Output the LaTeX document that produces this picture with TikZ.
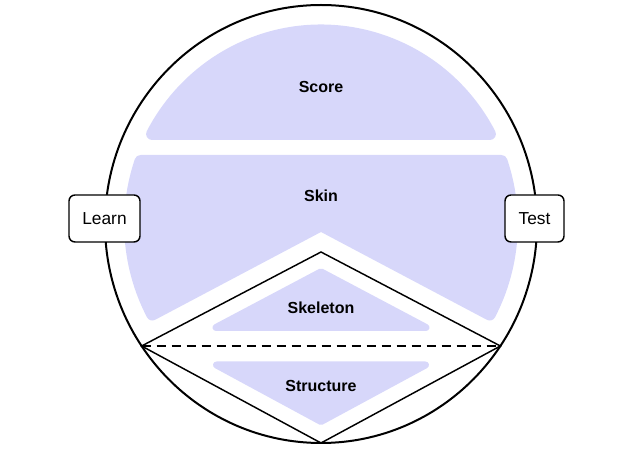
\documentclass[tikz,border=0pt]{standalone}
\usepackage{fontspec}
\setmainfont{Liberation Sans}
\definecolor{lav}{HTML}{D7D7FA}
\begin{document}
\begin{tikzpicture}[x=0.75pt,y=0.75pt,
  region/.style={fill=lav,draw=lav,line join=round,line width=9pt},
  tri/.style={fill=lav,draw=lav,line join=round,line width=5.25pt},
  lbl/.style={font=\bfseries\fontsize{12}{14}\selectfont,text=black},
  box/.style={draw,line width=1.1pt,rounded corners=4.5pt,fill=white,
    minimum height=35.25pt,inner sep=0pt,font=\fontsize{13}{15}\selectfont}]
\useasboundingbox (0,0) rectangle (640,450);
\begin{scope}[shift={(321,226)},xscale=0.9863]
  % Score region
  \path[region] (27.72:193.5) arc[start angle=27.72,end angle=152.28,radius=193.5] -- cycle;
  % Skin region
  \path[region] (161:193.5) arc[start angle=161,end angle=207.89,radius=193.5]
    -- (0,-1.2) -- (332.11:193.5) arc[start angle=332.11,end angle=379,radius=193.5] -- cycle;
  % Skeleton and Structure regions
  \path[tri] (0,-47.9) -- (-106.45,-103.5) -- (106.45,-103.5) -- cycle;
  \path[tri] (-105.9,-141.0) -- (105.9,-141.0) -- (0,-197.5) -- cycle;
  % outer circle
  \draw[line width=1.5pt] (0,0) circle[radius=219];
  % diamond
  \coordinate (T) at (0,-28);
  \coordinate (L) at (-181.9,-122);
  \coordinate (R) at (181.9,-122);
  \coordinate (B) at (0,-219);
  \draw[line width=1.1pt,line join=miter] (L) -- (T) -- (R) -- (B) -- cycle;
  \draw[line width=1.1pt,dash pattern=on 6.75pt off 4.5pt] (L) -- (R);
  % labels
  \node[lbl] (score) at (0,137) {Score};
  \node[lbl] (skin) at (0,28) {Skin};
  \node[lbl] (skeleton) at (0,-84) {Skeleton};
  \node[lbl] (structure) at (0,-162) {Structure};
\end{scope}
\node[box,minimum width=53.25pt] (learn) at (104.5,231.5) {Learn};
\node[box,minimum width=44.25pt] (test) at (534.5,231.5) {Test};
\end{tikzpicture}
\end{document}
